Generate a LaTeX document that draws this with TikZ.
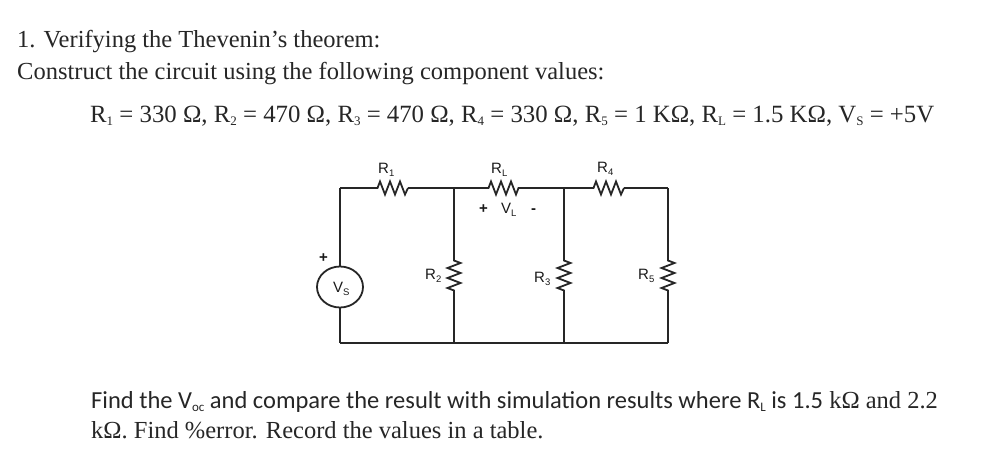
\documentclass[tikz,border=0pt]{standalone}
\usepackage{fontspec}
\setmainfont{Liberation Serif}
\newfontfamily\labelfont{Liberation Sans}
\newfontfamily\noteFont{Carlito}
\usetikzlibrary{positioning,shapes.geometric,decorations.pathmorphing}
\tikzstyle{wire}=[draw=black!85,line width=1.8pt]
\tikzstyle{res}=[wire,decorate,decoration={zigzag,segment length=10pt,amplitude=6.5pt,pre length=0.5pt,post length=0.5pt}]
\tikzstyle{txt}=[anchor=base west,inner sep=0pt,text=black!85,font=\fontsize{24.5}{26}\selectfont]
\tikzstyle{lab}=[anchor=base west,inner sep=0pt,text=black!90,font=\labelfont\fontsize{15}{15}\selectfont]
\newcommand{\lowSub}[1]{\raisebox{-3pt}{\fontsize{13}{13}\selectfont #1}}
\newcommand{\labSub}[1]{\raisebox{-3pt}{\fontsize{9.5}{10}\selectfont #1}}
\newcommand{\newPoint}[2]{\coordinate (#1) at (#2);}
\newcommand{\newWire}[2]{\draw[wire] (#1) -- (#2);}
\newcommand{\newRes}[2]{\draw[res] (#1) -- (#2);}
\newcommand{\newLabel}[3]{\node[lab](#1) at (#2) {#3};}
\newcommand{\newText}[3]{\node[txt](#1) at (#2) {#3};}
\begin{document}
\begin{tikzpicture}[x=1pt,y=-1pt]
    \useasboundingbox (0,0) rectangle (1001,460);
    \newText{title}{17,48}{1. Verifying the Thevenin’s theorem:}
    \newText{intro}{17,79}{Construct the circuit using the following component values:}
    \newText{values}{90,122}{\fontsize{24.8}{26}\selectfont R\lowSub{1} = 330 Ω, R\lowSub{2} = 470 Ω, R\lowSub{3} = 470 Ω, R\lowSub{4} = 330 Ω, R\lowSub{5} = 1 KΩ, R\lowSub{L} = 1.5 KΩ, V\lowSub{S} = +5V}
    \newText{findA}{91,408}{{\noteFont Find the V\lowSub{oc} and compare the result with simulation results where R\lowSub{L} is 1.5} kΩ and 2.2}
    \newText{findB}{91,438}{kΩ. Find \%error. Record the values in a table.}
    % corners and junctions
    \newPoint{tl}{340,188}
    \newPoint{n1}{454,188}
    \newPoint{n2}{564,188}
    \newPoint{tr}{668,188}
    \newPoint{bl}{340,343}
    \newPoint{b1}{454,343}
    \newPoint{b2}{564,343}
    \newPoint{br}{668,343}
    % resistor ends
    \newPoint{r1a}{377,188}
    \newPoint{r1b}{408,188}
    \newPoint{rla}{488,188}
    \newPoint{rlb}{520,188}
    \newPoint{r4a}{593,188}
    \newPoint{r4b}{624,188}
    \newPoint{r2a}{454,260}
    \newPoint{r2b}{454,292}
    \newPoint{r3a}{564,260}
    \newPoint{r3b}{564,292}
    \newPoint{r5a}{668,260}
    \newPoint{r5b}{668,292}
    \node[ellipse,wire,minimum width=46pt,minimum height=41pt,inner sep=0pt](vs) at (340,287) {};
    \newWire{vs.north}{tl}
    \newWire{tl}{r1a}
    \newRes{r1a}{r1b}
    \newWire{r1b}{n1}
    \newWire{n1}{rla}
    \newRes{rla}{rlb}
    \newWire{rlb}{n2}
    \newWire{n2}{r4a}
    \newRes{r4a}{r4b}
    \newWire{r4b}{tr}
    \newWire{n1}{r2a}
    \newRes{r2a}{r2b}
    \newWire{r2b}{b1}
    \newWire{n2}{r3a}
    \newRes{r3a}{r3b}
    \newWire{r3b}{b2}
    \newWire{tr}{r5a}
    \newRes{r5a}{r5b}
    \newWire{r5b}{br}
    \newWire{vs.south}{bl}
    \newWire{bl}{br}
    % labels
    \newLabel{lr1}{378,173}{R\labSub{1}}
    \newLabel{lrl}{491,173}{R\labSub{L}}
    \newLabel{lr4}{597,172}{R\labSub{4}}
    \newLabel{lr2}{425,279}{R\labSub{2}}
    \newLabel{lr3}{534,282}{R\labSub{3}}
    \newLabel{lr5}{638,279}{R\labSub{5}}
    \newLabel{lvl}{501,213}{V\labSub{L}}
    \newLabel{lvs}{333,292}{V\labSub{S}}
    \newLabel{lp}{479,213}{\textbf{+}}
    \newLabel{lm}{531,213}{\textbf{-}}
    \newLabel{lvp}{319,262}{\textbf{+}}
\end{tikzpicture}
\end{document}
